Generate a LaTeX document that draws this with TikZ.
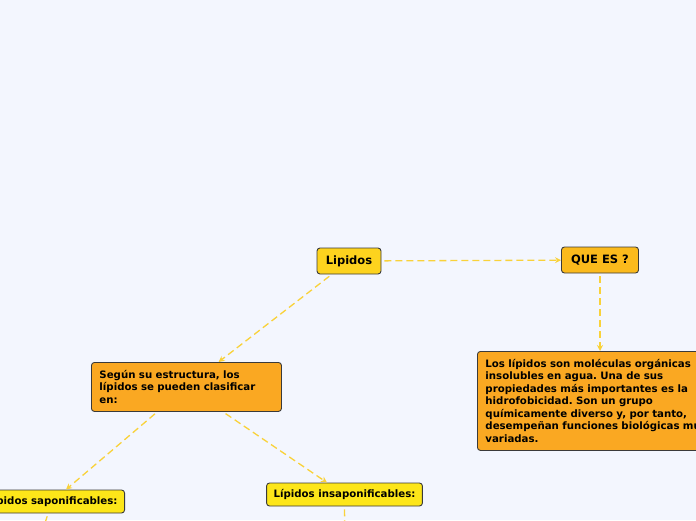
\documentclass[tikz,border=0pt]{standalone}
\usepackage{fontspec}
\setmainfont{DejaVu Sans}
\usetikzlibrary{arrows.meta}
\frenchspacing
\definecolor{bgblue}{HTML}{F3F6FE}
\definecolor{lipgold}{HTML}{FDD31E}
\definecolor{queamber}{HTML}{FBBA1C}
\definecolor{boxorange}{HTML}{FAA822}
\definecolor{leafyellow}{HTML}{FDE619}
\definecolor{linkgold}{HTML}{F9D23A}
\definecolor{edgegray}{HTML}{3A3A3A}
\begin{document}
\begin{tikzpicture}[x=1pt,y=-1pt,
    bubble/.style={draw=edgegray, line width=0.9pt, rounded corners=3pt,
      font=\bfseries\fontsize{10.2}{12.5}\selectfont, inner xsep=7pt},
    topic/.style={bubble, font=\bfseries\fontsize{11.5}{14}\selectfont, minimum height=26pt},
    lnk/.style={draw=linkgold, line width=1.3pt, dash pattern=on 7pt off 4pt,
      -{Stealth[length=6pt,width=6pt]}, shorten <=3pt}]
    \fill[bgblue] (0,0) rectangle (696,520);
    \clip (0,0) rectangle (696,520);

    % top row
    \node[topic, fill=lipgold, minimum width=64pt] (lip) at (349,261) {Lipidos};
    \node[topic, fill=queamber, minimum width=77pt] (que) at (600,260) {QUE ES ?};

    % text boxes
    \node[bubble, fill=boxorange, anchor=north west, text width=174pt, align=left,
      inner xsep=8pt, minimum height=49pt] (seg) at (91,362)
      {Según su estructura, los\\ lípidos se pueden clasificar\\ en:};
    \node[bubble, fill=boxorange, anchor=north west, text width=240pt, align=left,
      inner xsep=8pt, minimum height=99pt] (def) at (477,351)
      {Los lípidos son moléculas orgánicas\\ insolubles en agua. Una de sus\\
       propiedades más importantes es la\\ hidrofobicidad. Son un grupo\\
       químicamente diverso y, por tanto,\\ desempeñan funciones biológicas muy\\ variadas.};

    % bottom row
    \node[bubble, fill=leafyellow, minimum height=23pt, anchor=east] (sap) at (125,501.5) {Lípidos saponificables:};
    \node[bubble, fill=leafyellow, minimum height=23pt] (insap) at (344.5,494.5) {Lípidos insaponificables:};
    \coordinate (sapkid) at (20,600);
    \coordinate (insapkid) at (345,600);

    \draw[lnk] (lip) -- (que);
    \draw[lnk] (que) -- (que |- def.north);
    \draw[lnk] (lip) -- (seg);
    \draw[lnk] (seg) -- (sap);
    \draw[lnk] (seg) -- (insap);
    \draw[lnk] (sap) -- (sapkid);
    \draw[lnk] (insap) -- (insapkid);
\end{tikzpicture}
\end{document}
